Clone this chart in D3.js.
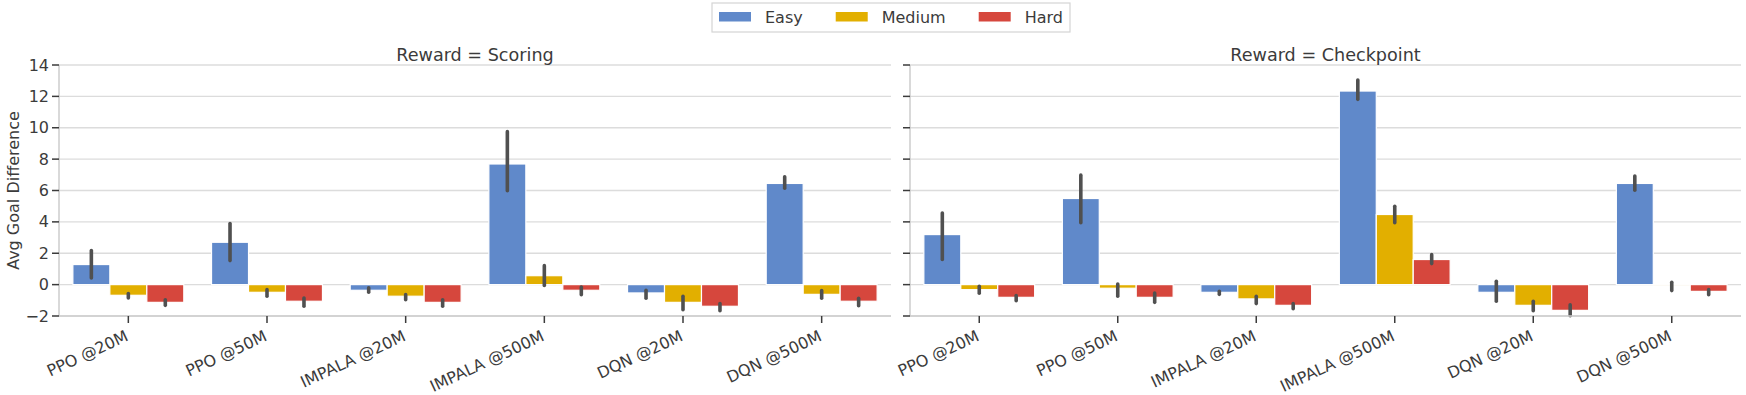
<!DOCTYPE html>
<html>
<head>
<meta charset="utf-8">
<script src="https://d3js.org/d3.v7.min.js"></script>
<style>
  body { margin: 0; background: #fff; }
  text { font-family: "DejaVu Sans", sans-serif; fill: #3b3b3b; }
</style>
</head>
<body>
<svg></svg>
<script>
// categories / hue levels / facets
const categories = ['PPO @20M', 'PPO @50M', 'IMPALA @20M', 'IMPALA @500M', 'DQN @20M', 'DQN @500M'];
const levels = ['Easy', 'Medium', 'Hard'];
const colors = ['#6089ca', '#e2af00', '#d6473d'];
const yTicks = [-2, 0, 2, 4, 6, 8, 10, 12, 14];

// [mean, ci low, ci high] per category
const scoringEasy   = [[1.28, 0.43, 2.17], [2.70, 1.53, 3.89], [-0.36, -0.49, -0.21], [7.69, 5.98, 9.75], [-0.53, -0.87, -0.36], [6.45, 6.14, 6.88]];
const scoringMedium = [[-0.68, -0.85, -0.57], [-0.49, -0.74, -0.32], [-0.74, -0.96, -0.64], [0.57, -0.06, 1.21], [-1.13, -1.60, -0.74], [-0.62, -0.87, -0.38]];
const scoringHard   = [[-1.13, -1.32, -0.96], [-1.06, -1.38, -0.85], [-1.13, -1.38, -0.96], [-0.36, -0.64, -0.15], [-1.38, -1.66, -1.21], [-1.06, -1.34, -0.87]];

const checkpointEasy   = [[3.19, 1.60, 4.57], [5.49, 3.94, 6.98], [-0.49, -0.62, -0.43], [12.34, 11.81, 13.04], [-0.49, -1.06, 0.21], [6.45, 6.02, 6.92]];
const checkpointMedium = [[-0.32, -0.55, -0.11], [-0.23, -0.74, 0.04], [-0.91, -1.21, -0.74], [4.47, 3.94, 5.00], [-1.32, -1.66, -1.06], [-0.03, -0.38, 0.15]];
const checkpointHard   = [[-0.81, -1.02, -0.70], [-0.81, -1.13, -0.53], [-1.32, -1.53, -1.21], [1.60, 1.34, 1.91], [-1.64, -1.98, -1.28], [-0.43, -0.64, -0.32]];

const panels = [
    { title: 'Reward = Scoring', series: [scoringEasy, scoringMedium, scoringHard], x0: 59, x1: 891 },
    { title: 'Reward = Checkpoint', series: [checkpointEasy, checkpointMedium, checkpointHard], x0: 910, x1: 1741 }
];

const width = 1746;
const height = 395;
const plotTop = 65, plotBottom = 316;

const svg = d3.select('svg').attr('width', width).attr('height', height);

const y = d3.scaleLinear().domain([-2, 14]).range([plotBottom, plotTop]);

const drawPanel = (p, idx) => {
    const g = svg.append('g');
    const x = d3.scaleBand().domain(categories).range([p.x0, p.x1]).padding(0);
    const inner = d3.scaleBand().domain(levels).range([0, x.bandwidth() * 0.8]);
    const off = x.bandwidth() * 0.1;

    // grid
    g.append('g').selectAll('line').data(yTicks).join('line')
        .attr('x1', p.x0).attr('x2', p.x1)
        .attr('y1', d => y(d)).attr('y2', d => y(d))
        .attr('stroke', '#dcdcdc').attr('stroke-width', 1.3);

    // bars
    const rows = [];
    p.series.forEach((s, li) => s.forEach((v, ci) => rows.push({ cat: categories[ci], lvl: levels[li], li, mean: v[0], lo: v[1], hi: v[2] })));

    g.append('g').selectAll('rect').data(rows).join('rect')
        .attr('x', d => x(d.cat) + off + inner(d.lvl))
        .attr('width', inner.bandwidth())
        .attr('y', d => y(Math.max(0, d.mean)))
        .attr('height', d => Math.abs(y(d.mean) - y(0)))
        .attr('fill', d => colors[d.li])
        .attr('stroke', '#fff').attr('stroke-width', 1.2);

    // error bars
    g.append('g').selectAll('line').data(rows).join('line')
        .attr('x1', d => x(d.cat) + off + inner(d.lvl) + inner.bandwidth() / 2)
        .attr('x2', d => x(d.cat) + off + inner(d.lvl) + inner.bandwidth() / 2)
        .attr('y1', d => y(d.lo)).attr('y2', d => y(d.hi))
        .attr('stroke', '#505050').attr('stroke-width', 3.6).attr('stroke-linecap', 'round');

    // spines
    g.append('line').attr('x1', p.x0).attr('x2', p.x0).attr('y1', plotTop).attr('y2', plotBottom)
        .attr('stroke', '#cccccc').attr('stroke-width', 1.5);
    g.append('line').attr('x1', p.x0).attr('x2', p.x1).attr('y1', plotBottom).attr('y2', plotBottom)
        .attr('stroke', '#cccccc').attr('stroke-width', 1.5);

    // y ticks
    const yt = g.append('g').selectAll('g').data(yTicks).join('g')
        .attr('transform', d => `translate(${p.x0},${y(d)})`);
    yt.append('line').attr('x1', -7).attr('x2', 0).attr('stroke', '#3b3b3b').attr('stroke-width', 1.5);
    if (idx === 0) {
        yt.append('text').attr('x', -10).attr('dy', '0.35em').attr('text-anchor', 'end')
            .attr('font-size', 16).text(d => d < 0 ? '\u2212' + Math.abs(d) : d);
    }

    // x ticks
    const xt = g.append('g').selectAll('g').data(categories).join('g')
        .attr('transform', d => `translate(${x(d) + x.bandwidth() / 2},${plotBottom})`);
    xt.append('line').attr('y1', 0).attr('y2', 7).attr('stroke', '#3b3b3b').attr('stroke-width', 1.5);
    xt.append('text').attr('text-anchor', 'end').attr('font-size', 16)
        .attr('transform', 'translate(1,24) rotate(-25)')
        .text(d => d);

    g.append('text').attr('x', (p.x0 + p.x1) / 2).attr('y', 61)
        .attr('text-anchor', 'middle').attr('font-size', 17.6).text(p.title);
};

panels.forEach(drawPanel);

svg.append('text').attr('transform', `translate(19,${(plotTop + plotBottom) / 2}) rotate(-90)`)
    .attr('text-anchor', 'middle').attr('font-size', 16).text('Avg Goal Difference');

// legend
const legend = svg.append('g');
const box = legend.append('rect').attr('x', 712).attr('y', 3).attr('height', 29)
    .attr('fill', '#fff').attr('stroke', '#d4d4d4').attr('stroke-width', 1.2);
let cx = 719;
levels.forEach((l, i) => {
    legend.append('rect').attr('x', cx).attr('y', 12).attr('width', 32).attr('height', 9.5).attr('fill', colors[i]);
    const t = legend.append('text').attr('x', cx + 46).attr('y', 22.5).attr('font-size', 16).text(l);
    cx += 46 + t.node().getComputedTextLength() + 33;
});
box.attr('width', cx - 33 + 7 - 712);
</script>
</body>
</html>
